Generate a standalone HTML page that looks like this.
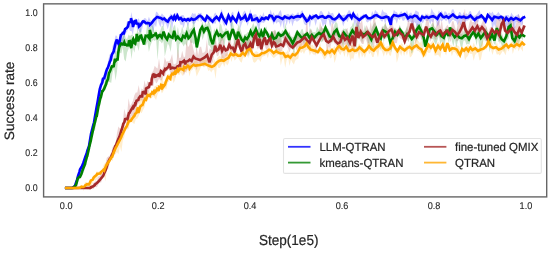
<!DOCTYPE html>
<html><head><meta charset="utf-8"><style>
html,body{margin:0;padding:0;background:#fff;}
svg{display:block;}
text{font-family:"Liberation Sans",Arial,sans-serif;fill:#262626;text-rendering:geometricPrecision;stroke:#262626;stroke-width:0.22px;}
.tk{font-size:9.8px;stroke-width:0.12px;}
.lg{font-size:11.8px;}
.ax{font-size:13.6px;}
</style></head><body>
<svg width="550" height="253" viewBox="0 0 550 253">
<rect width="550" height="253" fill="#fff"/>
<clipPath id="c"><rect x="43.6" y="3.85" width="503.10" height="193.05"/></clipPath>
<g clip-path="url(#c)">
<polygon points="66.2,188.0 67.7,188.0 69.1,188.0 70.6,188.0 72.0,188.0 73.5,185.8 74.9,184.4 76.4,179.9 77.8,174.8 79.3,169.3 80.7,165.1 82.2,164.5 83.6,159.6 85.1,155.9 86.5,149.3 88.0,145.5 89.4,142.6 90.9,133.0 92.3,125.5 93.8,118.9 95.2,111.2 96.7,104.6 98.1,95.4 99.6,89.2 101.0,79.3 102.5,78.6 103.9,74.8 105.4,72.9 106.8,68.3 108.3,60.0 109.7,54.3 111.2,56.2 112.6,46.0 114.1,42.2 115.5,35.5 117.0,35.7 118.4,41.4 119.9,36.9 121.3,31.6 122.8,31.5 124.2,28.6 125.7,26.7 127.1,20.9 128.6,21.8 130.0,19.9 131.5,12.0 132.9,20.7 134.4,20.6 135.8,18.0 137.3,21.7 138.7,18.0 140.2,22.8 141.6,20.2 143.1,19.4 144.5,17.9 146.0,18.5 147.4,21.0 148.9,16.8 150.3,20.1 151.8,21.3 153.2,18.0 154.7,17.4 156.1,11.4 157.6,12.6 159.0,15.1 160.5,16.1 161.9,13.3 163.4,15.3 164.8,16.2 166.3,18.4 167.7,18.6 169.2,16.4 170.6,13.4 172.1,14.4 173.5,15.3 175.0,13.9 176.4,12.6 177.9,13.1 179.3,16.2 180.8,15.7 182.2,15.1 183.7,15.3 185.1,18.2 186.6,17.7 188.0,17.6 189.5,16.9 190.9,16.1 192.4,12.8 193.8,14.0 195.3,13.3 196.7,16.7 198.2,12.9 199.6,13.6 201.1,12.6 202.5,15.5 204.0,16.9 205.4,17.2 206.9,13.7 208.3,15.5 209.8,17.1 211.2,15.9 212.7,19.8 214.1,14.1 215.6,12.6 217.0,15.8 218.5,17.4 219.9,16.3 221.4,9.0 222.8,12.3 224.3,18.7 225.7,16.8 227.2,15.4 228.6,12.7 230.1,17.5 231.5,13.1 233.0,11.4 234.4,16.8 235.9,19.8 237.3,16.1 238.8,9.3 240.2,16.1 241.7,16.6 243.1,12.4 244.6,10.4 246.0,12.4 247.5,17.8 248.9,13.9 250.4,9.0 251.8,14.8 253.3,14.8 254.7,14.3 256.2,14.3 257.6,17.8 259.1,16.4 260.5,14.6 262.0,16.8 263.4,12.0 264.9,17.1 266.3,15.7 267.8,16.5 269.2,14.8 270.7,9.6 272.1,14.4 273.6,12.2 275.0,15.4 276.5,14.6 277.9,14.5 279.4,11.6 280.8,10.1 282.3,16.5 283.7,14.8 285.2,14.7 286.6,14.6 288.1,13.7 289.5,15.1 291.0,14.3 292.4,13.3 293.9,14.6 295.3,15.2 296.8,13.4 298.2,12.1 299.7,14.9 301.1,10.9 302.6,10.2 304.0,15.6 305.5,17.5 306.9,17.1 308.4,16.5 309.8,13.6 311.3,15.8 312.7,13.8 314.2,15.1 315.6,14.1 317.1,14.1 318.5,15.9 320.0,11.6 321.4,10.7 322.9,13.1 324.3,15.8 325.8,15.6 327.2,15.0 328.7,10.8 330.1,13.5 331.6,13.2 333.0,12.8 334.5,16.9 335.9,16.8 337.4,15.9 338.8,11.4 340.3,15.1 341.7,15.2 343.2,15.3 344.6,14.6 346.1,15.3 347.5,12.6 349.0,9.8 350.4,11.4 351.9,14.8 353.3,10.2 354.8,13.8 356.2,15.2 357.7,12.8 359.1,17.9 360.6,15.6 362.0,15.8 363.5,13.5 364.9,14.6 366.4,13.6 367.8,15.7 369.3,17.0 370.7,16.7 372.2,11.0 373.6,14.6 375.1,9.7 376.5,11.4 378.0,12.8 379.4,15.3 380.9,14.4 382.3,9.2 383.8,12.0 385.2,12.6 386.7,12.9 388.1,15.7 389.6,19.5 391.0,21.1 392.5,14.8 393.9,9.7 395.4,11.8 396.8,12.1 398.3,14.4 399.7,13.0 401.2,10.9 402.6,13.2 404.1,12.3 405.5,12.9 407.0,10.2 408.4,14.7 409.9,12.9 411.3,12.6 412.8,15.3 414.2,13.8 415.7,10.2 417.1,11.3 418.6,12.0 420.0,18.1 421.5,14.2 422.9,14.3 424.4,16.1 425.8,13.2 427.3,15.0 428.7,14.5 430.2,15.0 431.6,8.3 433.1,11.7 434.5,13.3 436.0,15.2 437.4,14.9 438.9,10.3 440.3,12.7 441.8,10.5 443.2,14.8 444.7,11.2 446.1,11.8 447.6,14.2 449.0,12.5 450.5,13.9 451.9,9.6 453.4,9.2 454.8,12.8 456.3,15.4 457.7,15.9 459.2,11.8 460.6,12.6 462.1,15.8 463.5,12.0 465.0,15.2 466.4,13.3 467.9,14.8 469.3,11.4 470.8,10.9 472.2,15.0 473.7,16.1 475.1,15.6 476.6,14.6 478.0,12.2 479.5,10.0 480.9,14.2 482.4,15.5 483.8,17.2 485.3,18.7 486.7,14.2 488.2,13.3 489.6,12.0 491.1,13.6 492.5,11.5 494.0,14.6 495.4,14.9 496.9,14.1 498.3,11.7 499.8,14.0 501.2,15.2 502.7,15.2 504.1,16.7 505.6,15.0 507.0,15.0 508.5,15.0 509.9,17.1 511.4,12.4 512.8,14.9 514.3,16.8 515.7,15.8 517.2,14.9 518.6,13.8 520.1,18.1 521.5,16.9 523.0,15.0 523.0,23.1 521.5,26.1 520.1,22.6 518.6,22.9 517.2,21.3 515.7,22.4 514.3,34.2 512.8,22.2 511.4,21.1 509.9,28.9 508.5,22.8 507.0,29.6 505.6,24.2 504.1,22.9 502.7,19.2 501.2,19.1 499.8,21.6 498.3,20.3 496.9,19.4 495.4,28.1 494.0,23.7 492.5,30.4 491.1,21.8 489.6,19.2 488.2,18.4 486.7,19.8 485.3,22.7 483.8,22.3 482.4,18.5 480.9,20.1 479.5,18.3 478.0,22.9 476.6,20.8 475.1,25.5 473.7,20.8 472.2,21.0 470.8,18.7 469.3,19.5 467.9,20.6 466.4,20.4 465.0,23.6 463.5,19.7 462.1,21.1 460.6,25.9 459.2,20.0 457.7,25.2 456.3,21.3 454.8,20.7 453.4,19.5 451.9,20.4 450.5,22.5 449.0,24.5 447.6,19.2 446.1,21.3 444.7,19.6 443.2,19.5 441.8,21.6 440.3,20.1 438.9,24.6 437.4,26.7 436.0,21.3 434.5,18.1 433.1,22.9 431.6,20.8 430.2,24.6 428.7,20.3 427.3,20.9 425.8,20.8 424.4,19.4 422.9,23.6 421.5,21.8 420.0,24.3 418.6,25.3 417.1,28.9 415.7,23.3 414.2,22.1 412.8,27.5 411.3,22.9 409.9,21.0 408.4,22.3 407.0,21.1 405.5,18.3 404.1,20.7 402.6,20.7 401.2,17.4 399.7,19.9 398.3,18.4 396.8,23.8 395.4,19.6 393.9,19.2 392.5,21.4 391.0,27.7 389.6,23.6 388.1,21.4 386.7,18.9 385.2,24.4 383.8,18.9 382.3,21.8 380.9,20.8 379.4,18.5 378.0,17.2 376.5,19.1 375.1,19.4 373.6,18.0 372.2,19.1 370.7,21.6 369.3,20.7 367.8,22.5 366.4,21.7 364.9,17.5 363.5,19.6 362.0,19.8 360.6,21.0 359.1,24.6 357.7,28.2 356.2,21.3 354.8,26.6 353.3,18.7 351.9,21.2 350.4,18.1 349.0,18.5 347.5,22.3 346.1,19.9 344.6,22.2 343.2,26.6 341.7,20.9 340.3,19.9 338.8,19.8 337.4,19.5 335.9,22.1 334.5,22.4 333.0,24.6 331.6,21.4 330.1,26.9 328.7,20.1 327.2,19.1 325.8,25.7 324.3,23.7 322.9,27.1 321.4,21.1 320.0,18.5 318.5,19.9 317.1,20.1 315.6,26.1 314.2,19.8 312.7,20.5 311.3,20.3 309.8,28.2 308.4,21.5 306.9,24.9 305.5,25.2 304.0,23.7 302.6,18.5 301.1,17.6 299.7,19.8 298.2,21.0 296.8,21.7 295.3,20.3 293.9,21.2 292.4,26.5 291.0,19.8 289.5,24.3 288.1,19.3 286.6,25.9 285.2,18.5 283.7,29.1 282.3,20.8 280.8,27.4 279.4,22.5 277.9,21.8 276.5,23.8 275.0,21.2 273.6,25.1 272.1,20.6 270.7,19.4 269.2,18.2 267.8,20.2 266.3,20.1 264.9,22.0 263.4,22.9 262.0,22.2 260.5,23.0 259.1,30.7 257.6,26.6 256.2,21.9 254.7,22.3 253.3,22.2 251.8,22.3 250.4,17.2 248.9,21.7 247.5,25.9 246.0,20.3 244.6,21.7 243.1,20.5 241.7,24.0 240.2,28.8 238.8,18.8 237.3,25.9 235.9,22.9 234.4,21.1 233.0,18.7 231.5,28.8 230.1,24.9 228.6,18.2 227.2,25.4 225.7,23.6 224.3,26.5 222.8,23.0 221.4,17.8 219.9,24.1 218.5,21.7 217.0,19.2 215.6,23.8 214.1,23.3 212.7,24.5 211.2,21.6 209.8,21.8 208.3,23.6 206.9,19.0 205.4,23.3 204.0,22.5 202.5,20.0 201.1,22.3 199.6,18.0 198.2,21.5 196.7,20.1 195.3,22.8 193.8,24.7 192.4,23.2 190.9,20.6 189.5,21.7 188.0,26.4 186.6,23.1 185.1,22.1 183.7,28.2 182.2,24.2 180.8,25.3 179.3,21.4 177.9,19.4 176.4,20.4 175.0,19.7 173.5,19.9 172.1,30.3 170.6,21.7 169.2,24.6 167.7,29.3 166.3,24.4 164.8,22.0 163.4,27.6 161.9,21.8 160.5,27.3 159.0,23.9 157.6,18.6 156.1,27.2 154.7,24.4 153.2,33.2 151.8,26.1 150.3,28.2 148.9,29.8 147.4,25.0 146.0,25.8 144.5,23.4 143.1,24.8 141.6,31.4 140.2,32.5 138.7,30.6 137.3,30.2 135.8,23.8 134.4,24.9 132.9,34.9 131.5,30.9 130.0,31.0 128.6,27.2 127.1,31.7 125.7,33.2 124.2,37.5 122.8,44.9 121.3,46.5 119.9,46.1 118.4,50.5 117.0,45.9 115.5,53.7 114.1,54.2 112.6,60.6 111.2,60.9 109.7,64.5 108.3,70.6 106.8,75.8 105.4,81.8 103.9,79.7 102.5,83.9 101.0,92.1 99.6,106.2 98.1,100.4 96.7,115.5 95.2,117.4 93.8,125.4 92.3,134.5 90.9,139.6 89.4,148.1 88.0,152.3 86.5,156.9 85.1,159.0 83.6,165.5 82.2,170.9 80.7,170.5 79.3,175.7 77.8,178.0 76.4,184.1 74.9,188.5 73.5,187.7 72.0,188.0 70.6,188.0 69.1,188.0 67.7,188.0 66.2,188.0" fill="#0000ff" fill-opacity="0.2"/>
<polygon points="66.2,188.0 67.7,188.0 69.1,188.0 70.6,188.0 72.0,188.0 73.5,187.1 74.9,184.9 76.4,182.7 77.8,175.4 79.3,174.8 80.7,173.1 82.2,165.2 83.6,164.9 85.1,160.1 86.5,149.2 88.0,149.9 89.4,135.9 90.9,137.9 92.3,131.4 93.8,125.1 95.2,116.8 96.7,111.4 98.1,105.5 99.6,94.7 101.0,90.8 102.5,88.5 103.9,84.5 105.4,77.8 106.8,68.8 108.3,74.9 109.7,67.6 111.2,65.5 112.6,63.4 114.1,57.5 115.5,51.0 117.0,51.4 118.4,45.1 119.9,40.9 121.3,40.3 122.8,37.4 124.2,31.8 125.7,38.5 127.1,39.0 128.6,34.5 130.0,36.1 131.5,34.8 132.9,34.7 134.4,38.8 135.8,37.9 137.3,29.5 138.7,33.1 140.2,26.0 141.6,33.5 143.1,34.9 144.5,37.7 146.0,33.4 147.4,21.7 148.9,29.0 150.3,28.1 151.8,24.6 153.2,27.0 154.7,32.4 156.1,29.4 157.6,35.4 159.0,32.7 160.5,30.4 161.9,25.5 163.4,26.5 164.8,32.3 166.3,35.9 167.7,32.2 169.2,32.1 170.6,21.9 172.1,31.5 173.5,26.7 175.0,24.4 176.4,34.3 177.9,26.8 179.3,34.9 180.8,32.5 182.2,26.0 183.7,32.5 185.1,31.5 186.6,27.5 188.0,22.6 189.5,30.0 190.9,28.3 192.4,27.6 193.8,15.6 195.3,34.0 196.7,38.1 198.2,35.8 199.6,30.6 201.1,24.8 202.5,21.5 204.0,26.8 205.4,22.2 206.9,25.3 208.3,21.5 209.8,23.2 211.2,27.0 212.7,39.9 214.1,28.2 215.6,31.6 217.0,26.8 218.5,32.7 219.9,23.2 221.4,25.0 222.8,31.3 224.3,31.5 225.7,27.7 227.2,29.2 228.6,33.6 230.1,30.9 231.5,20.9 233.0,22.9 234.4,30.6 235.9,32.8 237.3,29.3 238.8,24.1 240.2,28.0 241.7,33.6 243.1,37.3 244.6,33.9 246.0,34.2 247.5,32.2 248.9,32.0 250.4,28.5 251.8,26.8 253.3,22.7 254.7,26.9 256.2,24.8 257.6,31.1 259.1,27.2 260.5,28.3 262.0,30.4 263.4,32.2 264.9,28.2 266.3,26.3 267.8,32.6 269.2,32.7 270.7,35.6 272.1,31.6 273.6,33.8 275.0,29.7 276.5,32.8 277.9,32.5 279.4,30.2 280.8,33.6 282.3,30.0 283.7,31.0 285.2,22.7 286.6,29.0 288.1,32.2 289.5,32.8 291.0,36.2 292.4,36.8 293.9,37.3 295.3,32.3 296.8,30.2 298.2,30.9 299.7,33.4 301.1,29.8 302.6,28.7 304.0,34.4 305.5,32.7 306.9,30.6 308.4,34.1 309.8,27.7 311.3,30.1 312.7,32.3 314.2,32.1 315.6,32.4 317.1,26.5 318.5,29.2 320.0,30.2 321.4,25.6 322.9,30.1 324.3,28.1 325.8,24.7 327.2,28.1 328.7,29.4 330.1,32.8 331.6,35.5 333.0,30.6 334.5,24.2 335.9,21.8 337.4,23.4 338.8,30.7 340.3,34.2 341.7,32.4 343.2,28.6 344.6,29.0 346.1,28.6 347.5,31.2 349.0,33.6 350.4,27.3 351.9,26.0 353.3,21.4 354.8,28.3 356.2,22.1 357.7,25.5 359.1,25.2 360.6,31.9 362.0,31.4 363.5,31.2 364.9,24.9 366.4,30.5 367.8,28.3 369.3,31.7 370.7,32.2 372.2,26.7 373.6,24.2 375.1,21.9 376.5,25.5 378.0,29.5 379.4,33.1 380.9,32.9 382.3,27.2 383.8,26.1 385.2,22.8 386.7,27.0 388.1,30.1 389.6,34.1 391.0,38.6 392.5,32.8 393.9,27.2 395.4,29.1 396.8,29.6 398.3,29.9 399.7,24.7 401.2,28.2 402.6,30.6 404.1,31.8 405.5,31.5 407.0,25.5 408.4,31.5 409.9,33.4 411.3,36.1 412.8,33.0 414.2,29.7 415.7,29.1 417.1,23.2 418.6,24.5 420.0,24.6 421.5,22.6 422.9,32.1 424.4,38.8 425.8,39.6 427.3,35.1 428.7,30.4 430.2,27.1 431.6,24.0 433.1,22.6 434.5,26.7 436.0,28.8 437.4,31.6 438.9,28.6 440.3,31.5 441.8,29.7 443.2,33.3 444.7,33.8 446.1,28.9 447.6,29.0 449.0,29.2 450.5,26.3 451.9,27.6 453.4,28.3 454.8,30.8 456.3,32.0 457.7,28.1 459.2,31.9 460.6,33.8 462.1,34.1 463.5,30.9 465.0,28.8 466.4,32.0 467.9,34.4 469.3,34.5 470.8,31.6 472.2,31.7 473.7,29.3 475.1,30.0 476.6,31.9 478.0,27.9 479.5,32.3 480.9,28.9 482.4,33.3 483.8,30.4 485.3,28.5 486.7,27.3 488.2,34.2 489.6,37.3 491.1,31.3 492.5,33.5 494.0,34.2 495.4,29.7 496.9,24.9 498.3,29.1 499.8,27.8 501.2,31.5 502.7,35.5 504.1,38.9 505.6,30.7 507.0,27.8 508.5,23.9 509.9,20.6 511.4,21.0 512.8,35.8 514.3,33.0 515.7,33.8 517.2,31.5 518.6,32.8 520.1,30.0 521.5,29.7 523.0,32.4 523.0,40.5 521.5,38.3 520.1,39.3 518.6,44.7 517.2,40.3 515.7,43.2 514.3,47.0 512.8,42.3 511.4,40.5 509.9,33.0 508.5,38.8 507.0,40.2 505.6,43.9 504.1,51.7 502.7,47.1 501.2,44.2 499.8,41.1 498.3,42.1 496.9,35.0 495.4,45.3 494.0,43.7 492.5,38.9 491.1,44.2 489.6,52.3 488.2,42.3 486.7,38.9 485.3,41.6 483.8,38.5 482.4,45.1 480.9,47.7 479.5,49.5 478.0,37.0 476.6,46.1 475.1,37.2 473.7,37.3 472.2,35.4 470.8,38.7 469.3,44.8 467.9,43.8 466.4,44.8 465.0,40.5 463.5,40.7 462.1,48.1 460.6,46.4 459.2,39.2 457.7,41.5 456.3,47.9 454.8,39.6 453.4,46.6 451.9,41.2 450.5,31.5 449.0,43.5 447.6,38.3 446.1,34.7 444.7,46.0 443.2,42.2 441.8,41.3 440.3,44.2 438.9,35.9 437.4,40.2 436.0,45.1 434.5,42.4 433.1,38.9 431.6,39.2 430.2,36.1 428.7,35.3 427.3,45.4 425.8,48.0 424.4,44.1 422.9,49.0 421.5,37.4 420.0,35.1 418.6,32.3 417.1,41.9 415.7,36.1 414.2,41.6 412.8,52.0 411.3,53.7 409.9,38.5 408.4,41.9 407.0,38.6 405.5,42.0 404.1,40.9 402.6,36.5 401.2,35.4 399.7,35.7 398.3,35.9 396.8,36.4 395.4,38.0 393.9,40.1 392.5,47.8 391.0,52.4 389.6,43.6 388.1,36.6 386.7,36.5 385.2,35.9 383.8,42.6 382.3,36.0 380.9,50.9 379.4,43.6 378.0,46.7 376.5,34.0 375.1,36.1 373.6,35.4 372.2,51.4 370.7,43.3 369.3,44.8 367.8,42.6 366.4,35.4 364.9,36.5 363.5,37.0 362.0,43.0 360.6,36.5 359.1,39.5 357.7,38.7 356.2,50.3 354.8,39.8 353.3,36.9 351.9,37.0 350.4,41.5 349.0,47.1 347.5,44.9 346.1,40.0 344.6,39.6 343.2,49.4 341.7,40.0 340.3,42.1 338.8,41.7 337.4,35.2 335.9,35.8 334.5,35.6 333.0,42.3 331.6,42.6 330.1,41.9 328.7,41.1 327.2,35.4 325.8,30.6 324.3,39.1 322.9,40.6 321.4,42.6 320.0,40.7 318.5,35.9 317.1,39.1 315.6,37.9 314.2,41.8 312.7,40.8 311.3,39.5 309.8,45.6 308.4,37.5 306.9,40.6 305.5,39.0 304.0,44.3 302.6,40.8 301.1,39.7 299.7,40.8 298.2,39.0 296.8,41.3 295.3,44.8 293.9,57.2 292.4,46.1 291.0,47.8 289.5,43.3 288.1,38.6 286.6,41.4 285.2,34.6 283.7,37.7 282.3,38.4 280.8,44.3 279.4,42.2 277.9,45.0 276.5,51.8 275.0,47.0 273.6,40.7 272.1,43.8 270.7,44.7 269.2,44.2 267.8,37.8 266.3,35.2 264.9,36.7 263.4,41.7 262.0,43.6 260.5,41.3 259.1,38.0 257.6,43.7 256.2,37.1 254.7,42.9 253.3,37.3 251.8,42.4 250.4,38.9 248.9,58.5 247.5,46.1 246.0,46.9 244.6,42.9 243.1,52.8 241.7,49.5 240.2,40.0 238.8,43.1 237.3,38.5 235.9,45.0 234.4,48.7 233.0,32.8 231.5,36.8 230.1,41.6 228.6,42.1 227.2,38.3 225.7,37.0 224.3,47.8 222.8,39.9 221.4,41.3 219.9,51.4 218.5,41.8 217.0,35.0 215.6,42.9 214.1,50.1 212.7,53.4 211.2,49.1 209.8,46.1 208.3,45.1 206.9,31.6 205.4,32.4 204.0,35.7 202.5,40.0 201.1,33.3 199.6,41.2 198.2,43.6 196.7,51.2 195.3,42.9 193.8,44.6 192.4,42.5 190.9,43.0 189.5,40.1 188.0,40.3 186.6,46.0 185.1,43.5 183.7,46.4 182.2,43.7 180.8,42.3 179.3,44.5 177.9,60.6 176.4,42.3 175.0,40.2 173.5,39.4 172.1,40.4 170.6,52.1 169.2,46.1 167.7,43.2 166.3,49.9 164.8,56.5 163.4,40.7 161.9,43.4 160.5,41.6 159.0,40.5 157.6,60.1 156.1,39.4 154.7,41.0 153.2,39.7 151.8,42.1 150.3,46.0 148.9,52.1 147.4,41.8 146.0,45.2 144.5,45.2 143.1,43.9 141.6,42.0 140.2,40.6 138.7,51.0 137.3,45.9 135.8,44.6 134.4,52.8 132.9,48.1 131.5,59.2 130.0,45.8 128.6,48.7 127.1,52.4 125.7,61.6 124.2,59.3 122.8,47.3 121.3,53.4 119.9,52.5 118.4,54.3 117.0,71.4 115.5,80.4 114.1,67.9 112.6,72.5 111.2,83.1 109.7,82.1 108.3,82.3 106.8,86.4 105.4,90.0 103.9,91.0 102.5,93.8 101.0,101.8 99.6,106.4 98.1,112.3 96.7,117.1 95.2,129.2 93.8,132.1 92.3,135.6 90.9,145.8 89.4,151.4 88.0,155.8 86.5,164.3 85.1,167.5 83.6,173.3 82.2,173.0 80.7,177.0 79.3,179.5 77.8,184.1 76.4,184.8 74.9,187.6 73.5,187.7 72.0,188.0 70.6,188.0 69.1,188.0 67.7,188.0 66.2,188.0" fill="#008000" fill-opacity="0.2"/>
<polygon points="66.2,188.0 67.7,188.0 69.1,188.0 70.6,188.0 72.0,188.0 73.5,188.0 74.9,188.0 76.4,188.0 77.8,188.0 79.3,188.0 80.7,188.0 82.2,188.0 83.6,188.0 85.1,188.0 86.5,188.0 88.0,188.0 89.4,186.4 90.9,187.1 92.3,185.3 93.8,182.5 95.2,181.2 96.7,181.7 98.1,176.6 99.6,176.3 101.0,170.8 102.5,174.8 103.9,172.0 105.4,164.0 106.8,157.8 108.3,156.5 109.7,155.7 111.2,152.6 112.6,147.2 114.1,144.9 115.5,143.8 117.0,132.9 118.4,126.5 119.9,128.5 121.3,128.7 122.8,122.7 124.2,108.8 125.7,114.6 127.1,114.8 128.6,98.3 130.0,105.9 131.5,103.7 132.9,101.1 134.4,95.3 135.8,92.6 137.3,92.6 138.7,85.0 140.2,93.9 141.6,88.5 143.1,89.7 144.5,80.3 146.0,86.2 147.4,80.9 148.9,82.5 150.3,80.5 151.8,72.8 153.2,71.1 154.7,65.7 156.1,67.4 157.6,68.5 159.0,58.6 160.5,68.7 161.9,70.0 163.4,66.1 164.8,56.9 166.3,61.7 167.7,61.3 169.2,61.5 170.6,59.0 172.1,53.9 173.5,64.3 175.0,64.2 176.4,62.7 177.9,47.8 179.3,58.3 180.8,57.5 182.2,50.8 183.7,57.0 185.1,56.8 186.6,39.9 188.0,47.3 189.5,45.1 190.9,37.2 192.4,45.1 193.8,50.9 195.3,55.5 196.7,47.3 198.2,55.2 199.6,47.3 201.1,46.5 202.5,53.1 204.0,52.5 205.4,51.1 206.9,39.3 208.3,53.6 209.8,48.2 211.2,49.7 212.7,50.0 214.1,48.5 215.6,37.8 217.0,46.1 218.5,42.8 219.9,42.3 221.4,32.2 222.8,35.3 224.3,45.2 225.7,48.3 227.2,46.5 228.6,40.3 230.1,32.0 231.5,46.0 233.0,44.6 234.4,41.4 235.9,32.5 237.3,35.0 238.8,27.6 240.2,44.9 241.7,45.0 243.1,37.7 244.6,39.7 246.0,37.7 247.5,41.3 248.9,36.1 250.4,41.3 251.8,41.9 253.3,38.0 254.7,32.6 256.2,32.8 257.6,40.1 259.1,31.8 260.5,38.1 262.0,39.3 263.4,32.9 264.9,31.5 266.3,40.7 267.8,39.9 269.2,37.4 270.7,32.4 272.1,31.1 273.6,31.1 275.0,29.6 276.5,35.3 277.9,39.7 279.4,33.6 280.8,39.4 282.3,41.8 283.7,34.8 285.2,29.0 286.6,30.3 288.1,37.7 289.5,30.5 291.0,42.7 292.4,44.4 293.9,34.6 295.3,38.7 296.8,35.0 298.2,31.8 299.7,37.4 301.1,37.1 302.6,33.2 304.0,33.5 305.5,32.5 306.9,14.2 308.4,37.1 309.8,30.8 311.3,29.0 312.7,34.6 314.2,36.7 315.6,35.6 317.1,34.5 318.5,34.2 320.0,21.2 321.4,27.5 322.9,28.0 324.3,28.7 325.8,23.0 327.2,34.2 328.7,31.6 330.1,38.1 331.6,23.2 333.0,23.8 334.5,37.1 335.9,24.9 337.4,34.8 338.8,34.3 340.3,35.0 341.7,30.6 343.2,30.1 344.6,35.5 346.1,29.6 347.5,27.7 349.0,38.6 350.4,38.6 351.9,32.4 353.3,28.1 354.8,43.5 356.2,25.0 357.7,19.2 359.1,21.9 360.6,22.9 362.0,18.9 363.5,32.0 364.9,31.6 366.4,25.1 367.8,27.4 369.3,31.4 370.7,21.1 372.2,29.9 373.6,14.9 375.1,19.8 376.5,27.8 378.0,38.7 379.4,32.5 380.9,29.6 382.3,25.4 383.8,29.9 385.2,22.9 386.7,26.9 388.1,28.4 389.6,26.2 391.0,20.8 392.5,21.8 393.9,29.6 395.4,27.6 396.8,30.8 398.3,28.3 399.7,25.7 401.2,30.6 402.6,32.3 404.1,33.8 405.5,30.1 407.0,26.9 408.4,16.8 409.9,24.3 411.3,21.9 412.8,15.7 414.2,25.5 415.7,28.9 417.1,25.3 418.6,27.9 420.0,27.8 421.5,31.3 422.9,29.1 424.4,29.4 425.8,22.6 427.3,12.6 428.7,21.6 430.2,31.3 431.6,32.7 433.1,16.0 434.5,31.6 436.0,26.2 437.4,22.5 438.9,19.8 440.3,27.3 441.8,19.8 443.2,29.8 444.7,28.7 446.1,26.8 447.6,24.7 449.0,28.0 450.5,31.6 451.9,21.7 453.4,20.9 454.8,26.4 456.3,31.1 457.7,23.4 459.2,19.6 460.6,23.9 462.1,21.2 463.5,15.2 465.0,8.6 466.4,27.7 467.9,30.5 469.3,22.9 470.8,18.7 472.2,22.2 473.7,21.9 475.1,23.1 476.6,14.1 478.0,23.4 479.5,25.1 480.9,24.9 482.4,21.9 483.8,17.4 485.3,24.9 486.7,26.8 488.2,33.4 489.6,28.7 491.1,26.2 492.5,27.8 494.0,29.9 495.4,29.8 496.9,17.5 498.3,17.6 499.8,16.7 501.2,16.0 502.7,17.0 504.1,15.4 505.6,28.5 507.0,28.7 508.5,19.9 509.9,27.0 511.4,16.6 512.8,17.5 514.3,27.7 515.7,25.5 517.2,18.5 518.6,14.1 520.1,18.1 521.5,29.6 523.0,19.2 523.0,35.1 521.5,37.8 520.1,39.0 518.6,37.6 517.2,46.3 515.7,41.1 514.3,36.4 512.8,37.8 511.4,34.8 509.9,32.7 508.5,34.6 507.0,35.3 505.6,34.8 504.1,31.1 502.7,28.6 501.2,28.1 499.8,44.6 498.3,36.8 496.9,35.9 495.4,35.3 494.0,36.4 492.5,34.0 491.1,37.3 489.6,38.1 488.2,43.8 486.7,39.3 485.3,37.9 483.8,38.8 482.4,33.7 480.9,32.4 479.5,36.5 478.0,30.8 476.6,38.8 475.1,37.1 473.7,32.9 472.2,32.3 470.8,32.0 469.3,36.0 467.9,42.4 466.4,37.8 465.0,35.0 463.5,28.3 462.1,37.0 460.6,37.2 459.2,37.9 457.7,40.7 456.3,41.4 454.8,33.8 453.4,34.1 451.9,36.6 450.5,42.2 449.0,36.5 447.6,35.6 446.1,33.5 444.7,41.0 443.2,38.8 441.8,36.1 440.3,39.0 438.9,36.1 437.4,36.0 436.0,40.0 434.5,38.5 433.1,35.6 431.6,38.3 430.2,41.7 428.7,36.3 427.3,34.2 425.8,32.7 424.4,36.2 422.9,37.8 421.5,40.0 420.0,36.0 418.6,39.6 417.1,38.0 415.7,44.9 414.2,36.7 412.8,31.3 411.3,27.4 409.9,35.0 408.4,41.9 407.0,38.7 405.5,44.1 404.1,42.6 402.6,40.0 401.2,39.0 399.7,38.0 398.3,36.2 396.8,43.2 395.4,42.9 393.9,43.8 392.5,34.3 391.0,37.7 389.6,36.0 388.1,36.8 386.7,38.2 385.2,38.9 383.8,38.3 382.3,35.1 380.9,36.5 379.4,40.0 378.0,48.9 376.5,46.8 375.1,39.5 373.6,50.0 372.2,41.7 370.7,39.0 369.3,41.4 367.8,45.4 366.4,40.5 364.9,38.5 363.5,44.0 362.0,44.1 360.6,41.6 359.1,38.7 357.7,38.0 356.2,35.7 354.8,49.5 353.3,50.4 351.9,48.2 350.4,45.5 349.0,48.8 347.5,47.9 346.1,43.7 344.6,45.5 343.2,42.3 341.7,49.4 340.3,44.8 338.8,51.8 337.4,49.0 335.9,44.7 334.5,43.6 333.0,41.3 331.6,42.0 330.1,48.2 328.7,46.4 327.2,53.9 325.8,42.4 324.3,38.4 322.9,42.3 321.4,39.1 320.0,42.2 318.5,43.8 317.1,46.9 315.6,55.9 314.2,43.2 312.7,41.6 311.3,42.8 309.8,51.7 308.4,46.4 306.9,45.5 305.5,45.2 304.0,45.6 302.6,44.8 301.1,46.2 299.7,48.2 298.2,46.5 296.8,51.0 295.3,46.7 293.9,49.8 292.4,49.4 291.0,48.1 289.5,52.4 288.1,48.5 286.6,45.0 285.2,45.7 283.7,46.4 282.3,49.4 280.8,52.6 279.4,52.0 277.9,50.1 276.5,53.5 275.0,46.5 273.6,47.8 272.1,47.7 270.7,43.0 269.2,45.9 267.8,48.4 266.3,50.0 264.9,46.1 263.4,44.4 262.0,54.4 260.5,47.8 259.1,47.6 257.6,49.6 256.2,43.0 254.7,41.1 253.3,49.2 251.8,53.3 250.4,51.0 248.9,52.6 247.5,57.1 246.0,48.7 244.6,49.1 243.1,52.0 241.7,55.4 240.2,51.8 238.8,46.9 237.3,44.4 235.9,51.8 234.4,58.1 233.0,50.7 231.5,53.1 230.1,49.2 228.6,50.8 227.2,56.2 225.7,56.3 224.3,59.1 222.8,58.4 221.4,58.5 219.9,50.6 218.5,55.4 217.0,56.6 215.6,50.4 214.1,55.8 212.7,62.5 211.2,64.0 209.8,66.9 208.3,64.1 206.9,62.6 205.4,63.4 204.0,66.6 202.5,65.6 201.1,64.8 199.6,65.6 198.2,63.3 196.7,70.3 195.3,66.3 193.8,65.6 192.4,63.2 190.9,64.4 189.5,71.2 188.0,68.9 186.6,70.6 185.1,72.4 183.7,75.7 182.2,64.7 180.8,65.5 179.3,72.7 177.9,73.4 176.4,72.7 175.0,78.4 173.5,71.6 172.1,75.3 170.6,75.1 169.2,68.2 167.7,70.6 166.3,71.5 164.8,76.4 163.4,75.8 161.9,80.2 160.5,80.4 159.0,78.8 157.6,81.8 156.1,83.6 154.7,79.2 153.2,86.6 151.8,81.3 150.3,86.8 148.9,91.5 147.4,94.3 146.0,98.4 144.5,95.2 143.1,106.0 141.6,100.1 140.2,100.6 138.7,103.2 137.3,105.1 135.8,110.2 134.4,114.5 132.9,117.1 131.5,115.6 130.0,120.2 128.6,121.4 127.1,130.1 125.7,121.4 124.2,128.2 122.8,132.5 121.3,132.4 119.9,139.9 118.4,142.7 117.0,143.8 115.5,151.5 114.1,156.1 112.6,156.5 111.2,159.6 109.7,162.3 108.3,168.4 106.8,169.3 105.4,173.0 103.9,175.4 102.5,177.7 101.0,183.0 99.6,181.5 98.1,185.0 96.7,187.6 95.2,186.2 93.8,188.7 92.3,189.3 90.9,188.2 89.4,188.3 88.0,188.0 86.5,188.0 85.1,188.0 83.6,188.0 82.2,188.0 80.7,188.0 79.3,188.0 77.8,188.0 76.4,188.0 74.9,188.0 73.5,188.0 72.0,188.0 70.6,188.0 69.1,188.0 67.7,188.0 66.2,188.0" fill="#a52a2a" fill-opacity="0.2"/>
<polygon points="66.2,188.0 67.7,188.0 69.1,188.0 70.6,188.0 72.0,188.0 73.5,188.0 74.9,188.0 76.4,188.0 77.8,188.0 79.3,187.5 80.7,186.4 82.2,186.0 83.6,186.0 85.1,181.9 86.5,182.5 88.0,183.2 89.4,181.6 90.9,179.5 92.3,178.4 93.8,175.5 95.2,174.4 96.7,171.3 98.1,171.7 99.6,171.5 101.0,170.6 102.5,168.0 103.9,164.2 105.4,162.8 106.8,163.5 108.3,160.0 109.7,157.3 111.2,155.9 112.6,151.8 114.1,147.5 115.5,144.6 117.0,143.9 118.4,140.6 119.9,133.2 121.3,133.4 122.8,131.0 124.2,128.8 125.7,125.8 127.1,123.6 128.6,114.7 130.0,118.6 131.5,116.1 132.9,114.8 134.4,113.0 135.8,108.6 137.3,106.4 138.7,105.6 140.2,98.6 141.6,96.7 143.1,101.7 144.5,92.9 146.0,96.2 147.4,93.2 148.9,90.9 150.3,92.9 151.8,91.2 153.2,89.2 154.7,86.2 156.1,85.7 157.6,84.8 159.0,86.2 160.5,81.4 161.9,75.0 163.4,82.7 164.8,80.2 166.3,76.4 167.7,74.3 169.2,73.7 170.6,75.1 172.1,70.2 173.5,71.8 175.0,71.6 176.4,69.4 177.9,65.5 179.3,67.8 180.8,66.4 182.2,65.8 183.7,62.7 185.1,65.7 186.6,60.7 188.0,62.3 189.5,64.5 190.9,61.7 192.4,63.6 193.8,62.3 195.3,60.3 196.7,61.1 198.2,62.7 199.6,62.7 201.1,59.4 202.5,59.7 204.0,59.3 205.4,59.8 206.9,59.8 208.3,62.5 209.8,64.5 211.2,62.4 212.7,64.5 214.1,59.0 215.6,62.0 217.0,58.4 218.5,56.5 219.9,55.5 221.4,58.0 222.8,54.2 224.3,58.4 225.7,53.8 227.2,53.3 228.6,54.8 230.1,48.7 231.5,48.2 233.0,53.4 234.4,49.2 235.9,49.5 237.3,52.0 238.8,53.2 240.2,52.5 241.7,49.9 243.1,46.9 244.6,48.5 246.0,49.0 247.5,47.3 248.9,47.4 250.4,47.0 251.8,50.2 253.3,52.9 254.7,52.2 256.2,50.9 257.6,52.0 259.1,53.3 260.5,52.9 262.0,45.1 263.4,50.0 264.9,50.4 266.3,50.3 267.8,48.3 269.2,45.9 270.7,48.8 272.1,48.7 273.6,51.4 275.0,50.0 276.5,48.3 277.9,48.9 279.4,48.6 280.8,50.5 282.3,49.4 283.7,52.0 285.2,52.6 286.6,51.9 288.1,49.8 289.5,54.0 291.0,53.8 292.4,52.1 293.9,50.4 295.3,52.0 296.8,52.0 298.2,46.8 299.7,45.3 301.1,41.7 302.6,45.7 304.0,44.0 305.5,41.2 306.9,37.6 308.4,44.4 309.8,43.8 311.3,45.5 312.7,44.6 314.2,47.5 315.6,48.5 317.1,49.4 318.5,49.6 320.0,42.4 321.4,48.0 322.9,49.4 324.3,50.1 325.8,51.5 327.2,46.0 328.7,49.5 330.1,46.7 331.6,48.7 333.0,48.3 334.5,45.9 335.9,48.5 337.4,45.2 338.8,44.8 340.3,42.2 341.7,47.0 343.2,42.7 344.6,47.2 346.1,42.0 347.5,47.0 349.0,47.5 350.4,46.5 351.9,44.5 353.3,44.5 354.8,47.8 356.2,48.5 357.7,46.4 359.1,43.2 360.6,45.5 362.0,44.9 363.5,48.8 364.9,49.5 366.4,47.6 367.8,42.6 369.3,41.5 370.7,43.6 372.2,46.2 373.6,46.0 375.1,45.1 376.5,44.9 378.0,43.1 379.4,38.7 380.9,41.3 382.3,42.3 383.8,42.2 385.2,46.9 386.7,46.6 388.1,46.2 389.6,46.2 391.0,41.8 392.5,37.7 393.9,44.0 395.4,46.8 396.8,48.2 398.3,47.7 399.7,46.0 401.2,43.2 402.6,44.1 404.1,47.8 405.5,46.9 407.0,44.7 408.4,45.6 409.9,43.3 411.3,42.5 412.8,46.0 414.2,42.7 415.7,40.0 417.1,39.8 418.6,41.3 420.0,43.2 421.5,40.5 422.9,51.2 424.4,50.6 425.8,47.0 427.3,43.7 428.7,43.4 430.2,43.7 431.6,42.3 433.1,39.9 434.5,46.5 436.0,47.9 437.4,42.5 438.9,42.3 440.3,44.5 441.8,44.2 443.2,43.8 444.7,48.5 446.1,46.5 447.6,41.7 449.0,44.1 450.5,45.1 451.9,45.5 453.4,46.9 454.8,46.2 456.3,45.0 457.7,45.5 459.2,46.4 460.6,51.6 462.1,45.9 463.5,48.5 465.0,46.4 466.4,47.0 467.9,44.3 469.3,47.3 470.8,44.3 472.2,47.4 473.7,42.4 475.1,46.1 476.6,47.2 478.0,47.6 479.5,48.3 480.9,44.9 482.4,39.7 483.8,47.1 485.3,45.5 486.7,44.0 488.2,39.7 489.6,41.7 491.1,41.1 492.5,43.1 494.0,46.3 495.4,46.0 496.9,42.2 498.3,47.3 499.8,46.1 501.2,45.5 502.7,44.5 504.1,45.1 505.6,43.7 507.0,41.2 508.5,45.6 509.9,43.2 511.4,41.8 512.8,41.5 514.3,44.4 515.7,43.2 517.2,40.7 518.6,39.4 520.1,40.3 521.5,39.9 523.0,41.5 523.0,51.7 521.5,49.5 520.1,48.0 518.6,51.4 517.2,46.8 515.7,49.8 514.3,48.8 512.8,53.9 511.4,46.3 509.9,48.4 508.5,51.5 507.0,48.6 505.6,55.2 504.1,52.5 502.7,51.1 501.2,53.5 499.8,55.5 498.3,54.0 496.9,54.8 495.4,50.4 494.0,49.6 492.5,55.0 491.1,50.1 489.6,47.2 488.2,43.2 486.7,49.8 485.3,49.6 483.8,50.6 482.4,52.0 480.9,59.4 479.5,60.5 478.0,52.7 476.6,53.3 475.1,54.9 473.7,60.7 472.2,53.8 470.8,53.9 469.3,53.1 467.9,56.0 466.4,57.6 465.0,60.5 463.5,51.7 462.1,52.7 460.6,56.0 459.2,55.5 457.7,56.4 456.3,54.2 454.8,52.1 453.4,51.5 451.9,56.2 450.5,51.3 449.0,49.1 447.6,48.4 446.1,55.6 444.7,52.0 443.2,48.1 441.8,50.1 440.3,57.9 438.9,55.5 437.4,54.7 436.0,55.4 434.5,55.4 433.1,47.4 431.6,49.8 430.2,52.7 428.7,52.9 427.3,51.7 425.8,56.9 424.4,54.8 422.9,58.7 421.5,54.4 420.0,52.4 418.6,51.1 417.1,50.7 415.7,48.5 414.2,49.8 412.8,53.9 411.3,56.5 409.9,57.5 408.4,49.2 407.0,55.6 405.5,51.2 404.1,56.3 402.6,50.5 401.2,56.1 399.7,51.5 398.3,57.7 396.8,62.8 395.4,50.7 393.9,50.2 392.5,45.8 391.0,55.7 389.6,55.5 388.1,52.1 386.7,55.8 385.2,51.4 383.8,56.8 382.3,52.2 380.9,49.1 379.4,49.0 378.0,57.5 376.5,51.9 375.1,51.3 373.6,57.0 372.2,56.9 370.7,52.3 369.3,54.2 367.8,50.4 366.4,53.2 364.9,58.0 363.5,54.2 362.0,57.5 360.6,51.7 359.1,59.4 357.7,52.2 356.2,54.0 354.8,52.9 353.3,59.5 351.9,57.7 350.4,61.4 349.0,53.1 347.5,57.4 346.1,49.1 344.6,57.1 343.2,52.5 341.7,51.8 340.3,55.3 338.8,52.5 337.4,51.6 335.9,59.1 334.5,63.0 333.0,52.7 331.6,57.5 330.1,58.6 328.7,54.3 327.2,55.3 325.8,58.1 324.3,59.8 322.9,57.0 321.4,53.6 320.0,53.5 318.5,52.7 317.1,54.8 315.6,53.0 314.2,55.3 312.7,53.8 311.3,52.2 309.8,55.4 308.4,49.9 306.9,49.7 305.5,50.4 304.0,54.0 302.6,51.2 301.1,53.3 299.7,51.1 298.2,59.0 296.8,59.2 295.3,60.4 293.9,64.4 292.4,62.6 291.0,59.7 289.5,65.9 288.1,57.4 286.6,60.2 285.2,68.0 283.7,57.8 282.3,59.0 280.8,65.6 279.4,54.6 277.9,55.0 276.5,55.6 275.0,57.3 273.6,57.9 272.1,56.4 270.7,54.3 269.2,52.9 267.8,58.3 266.3,54.3 264.9,56.0 263.4,56.2 262.0,56.9 260.5,62.1 259.1,59.5 257.6,59.3 256.2,61.6 254.7,62.7 253.3,61.9 251.8,56.2 250.4,51.6 248.9,56.6 247.5,52.3 246.0,55.3 244.6,58.0 243.1,57.3 241.7,62.7 240.2,61.5 238.8,59.1 237.3,57.3 235.9,59.5 234.4,60.5 233.0,56.6 231.5,61.9 230.1,56.9 228.6,63.2 227.2,65.5 225.7,62.4 224.3,66.9 222.8,63.1 221.4,64.9 219.9,68.1 218.5,68.1 217.0,64.8 215.6,79.1 214.1,69.6 212.7,69.9 211.2,72.5 209.8,69.9 208.3,71.1 206.9,66.7 205.4,66.4 204.0,67.6 202.5,66.3 201.1,66.4 199.6,70.3 198.2,73.1 196.7,76.6 195.3,69.7 193.8,67.7 192.4,70.1 190.9,70.8 189.5,76.5 188.0,68.8 186.6,73.0 185.1,71.6 183.7,73.8 182.2,75.9 180.8,72.5 179.3,75.3 177.9,74.2 176.4,73.9 175.0,80.3 173.5,83.1 172.1,77.5 170.6,79.3 169.2,81.2 167.7,82.7 166.3,89.2 164.8,87.9 163.4,91.1 161.9,93.5 160.5,89.7 159.0,91.9 157.6,94.3 156.1,100.0 154.7,97.9 153.2,95.9 151.8,98.0 150.3,98.9 148.9,97.6 147.4,101.2 146.0,101.1 144.5,107.2 143.1,109.9 141.6,113.3 140.2,112.1 138.7,116.1 137.3,118.5 135.8,119.2 134.4,124.1 132.9,123.0 131.5,121.6 130.0,122.6 128.6,129.3 127.1,127.9 125.7,129.8 124.2,136.9 122.8,140.7 121.3,152.1 119.9,146.1 118.4,154.3 117.0,152.0 115.5,154.5 114.1,152.7 112.6,161.3 111.2,159.5 109.7,164.2 108.3,166.2 106.8,170.4 105.4,181.4 103.9,174.6 102.5,171.9 101.0,174.0 99.6,175.1 98.1,176.3 96.7,179.6 95.2,181.0 93.8,179.2 92.3,184.8 90.9,189.0 89.4,186.5 88.0,190.3 86.5,187.2 85.1,186.9 83.6,191.1 82.2,187.4 80.7,188.0 79.3,188.3 77.8,188.0 76.4,188.0 74.9,188.0 73.5,188.0 72.0,188.0 70.6,188.0 69.1,188.0 67.7,188.0 66.2,188.0" fill="#ffa500" fill-opacity="0.2"/>
<polyline points="66.2,188.0 66.5,188.0 68.1,188.0 70.0,188.0 71.9,188.0 72.0,188.0 73.8,186.8 75.0,186.0 75.7,183.7 77.0,179.9 77.6,177.6 78.0,176.2 79.5,171.6 80.0,169.6 81.4,167.1 82.0,166.3 83.3,162.9 85.0,157.8 85.2,157.2 87.0,152.4 87.1,151.5 89.0,146.2 89.0,146.3 90.9,134.6 91.0,133.9 92.0,130.2 92.8,126.7 94.0,122.5 94.7,118.2 96.0,110.7 96.6,107.3 97.8,100.8 98.5,96.5 99.8,89.1 100.4,87.0 101.0,85.1 102.3,82.5 103.0,78.7 104.2,78.3 106.1,71.6 107.0,69.1 108.0,67.4 109.9,61.6 110.5,60.6 111.8,54.7 113.7,51.5 114.0,50.0 115.6,42.9 116.9,39.6 117.5,42.2 118.9,44.4 119.4,42.5 120.9,35.0 121.3,34.8 123.2,32.7 124.0,33.0 125.1,29.1 127.0,27.7 128.0,26.4 128.9,22.5 130.8,21.8 131.0,18.2 132.7,24.4 133.0,27.0 134.6,21.2 136.0,20.9 136.5,23.6 138.4,23.8 139.0,26.5 140.3,25.4 142.2,22.3 143.0,21.4 144.1,21.5 146.0,23.3 147.9,23.3 148.0,23.1 149.8,23.6 150.0,24.6 151.8,22.8 153.6,20.4 155.3,18.6 157.1,16.9 158.9,17.5 160.7,18.0 162.5,19.2 164.2,18.6 166.0,20.4 167.8,21.6 169.6,18.6 171.4,16.9 173.1,19.2 174.3,16.3 175.5,19.2 177.3,15.7 179.1,19.2 180.8,18.0 182.6,20.4 184.4,19.2 186.2,20.4 188.0,19.2 189.7,20.4 191.5,18.6 193.3,19.8 195.1,19.2 196.9,18.0 198.6,16.3 200.0,15.7 201.8,16.9 203.6,19.2 205.3,20.4 207.1,16.3 208.9,18.0 210.7,19.8 212.5,21.6 214.2,19.2 216.6,16.9 219.0,19.8 221.4,14.5 223.7,19.2 226.1,22.8 228.5,15.7 230.8,20.4 232.6,16.9 234.4,19.2 236.2,21.6 238.6,14.5 240.9,19.2 243.3,18.0 245.1,15.7 246.9,20.4 248.6,19.2 250.4,13.9 252.2,19.9 254.6,19.4 256.9,18.3 258.7,21.3 260.0,20.8 262.0,18.0 264.0,19.1 266.0,17.6 268.0,18.8 269.6,15.6 271.8,16.2 274.0,20.0 276.2,16.7 278.4,16.7 280.5,17.8 282.7,18.9 284.9,16.7 287.1,17.8 289.3,18.3 291.4,16.7 293.6,17.8 295.8,16.7 298.0,16.2 300.2,16.7 302.4,14.5 304.5,17.8 306.7,21.1 308.3,20.0 310.0,16.7 311.6,18.3 313.8,16.7 316.0,15.6 318.2,17.8 320.3,16.7 322.5,16.2 324.7,17.8 326.0,17.8 328.2,16.2 330.4,16.7 332.5,18.9 334.7,19.4 336.9,17.8 339.1,15.1 341.3,17.8 343.4,20.0 345.6,18.3 347.8,15.6 350.0,15.1 351.6,17.8 353.3,14.0 354.9,16.7 357.1,18.3 359.3,20.0 361.4,18.3 363.6,16.7 365.8,15.6 368.0,18.3 370.2,18.3 372.3,17.3 374.5,15.6 376.7,15.1 378.9,16.7 381.1,17.8 383.3,17.8 386.2,16.7 388.4,17.3 390.0,22.2 390.8,24.9 391.6,17.8 393.8,15.1 396.0,15.6 398.2,16.2 400.4,15.6 402.5,15.1 404.7,14.0 406.4,15.6 408.0,18.3 410.2,16.7 412.4,17.3 414.5,15.6 416.7,16.2 418.9,18.9 420.5,20.0 422.2,16.7 424.3,17.8 426.5,16.7 428.7,17.8 430.9,16.7 433.1,16.2 435.3,17.3 437.4,18.9 439.1,15.6 440.7,14.0 442.9,16.8 444.2,17.3 446.4,16.2 448.5,17.8 450.7,16.2 452.9,14.5 455.1,16.7 457.3,17.8 459.4,16.7 461.6,17.3 463.8,16.7 466.0,17.8 468.2,17.3 470.4,15.6 472.5,17.8 474.7,20.0 476.9,17.8 479.1,17.3 481.3,15.6 483.4,17.8 485.6,21.1 487.8,15.1 490.0,17.3 492.2,20.0 494.3,16.7 496.5,17.3 498.7,17.8 500.9,16.7 502.8,17.9 504.0,21.5 506.3,17.9 508.7,20.3 511.1,17.9 513.4,19.7 515.8,17.9 518.2,19.1 520.5,20.3 522.9,17.9 524.1,17.3" fill="none" stroke="#0000ff" stroke-width="2.6" stroke-linejoin="miter" stroke-miterlimit="3" stroke-linecap="square"/>
<polyline points="66.2,188.0 66.5,188.0 68.1,188.0 70.0,188.0 71.9,188.0 73.0,188.0 73.8,187.2 75.7,185.3 76.0,185.1 77.6,179.0 78.0,178.0 79.5,176.9 80.0,176.9 81.4,174.0 82.0,171.8 83.3,168.4 85.0,164.2 85.2,163.0 87.0,156.4 87.1,156.7 89.0,148.1 89.0,147.7 90.9,140.1 91.0,139.6 92.8,130.9 93.0,130.1 94.7,122.9 94.9,122.6 96.6,115.2 96.9,115.3 98.5,106.0 98.8,105.3 100.4,97.7 100.8,97.4 102.3,91.2 102.8,91.1 104.2,88.7 104.8,87.1 106.1,84.1 106.7,81.7 108.0,79.1 109.0,73.1 109.9,71.5 111.0,68.6 111.8,66.4 113.0,66.5 113.7,66.3 115.0,58.6 115.6,60.9 117.4,58.7 117.5,60.5 118.4,51.7 119.4,45.9 119.4,46.8 120.9,43.9 121.3,43.5 122.8,44.1 123.2,45.4 124.3,42.4 125.1,44.7 126.3,44.6 127.0,45.5 128.3,45.4 128.9,41.2 129.8,41.0 130.8,46.4 131.2,48.1 132.7,39.9 133.2,39.0 134.6,43.2 135.2,43.7 136.5,37.1 136.7,33.9 138.1,41.4 138.4,40.4 139.6,37.0 140.3,35.8 141.1,35.6 142.2,39.3 142.6,39.6 144.1,44.5 144.1,42.9 145.6,36.0 146.0,36.2 147.5,35.6 147.9,36.5 149.5,38.6 149.8,31.6 149.8,29.9 151.7,36.9 152.2,36.7 153.6,35.2 155.3,35.2 155.5,32.5 157.4,37.8 158.5,36.5 159.3,35.2 160.0,35.0 161.8,37.6 163.6,31.6 165.3,36.9 167.1,39.3 168.9,34.8 170.7,36.9 172.5,37.7 174.2,30.8 176.0,39.0 177.8,36.7 179.6,39.1 181.4,40.5 183.1,35.9 184.9,37.5 186.7,33.2 188.5,38.1 190.2,36.5 192.0,32.4 193.8,29.9 195.6,37.9 196.8,47.4 198.6,38.3 200.3,29.9 202.1,27.1 203.9,31.6 205.7,28.4 207.4,27.9 209.2,32.2 211.0,39.9 212.8,44.3 214.6,36.2 216.8,31.5 218.6,35.5 220.3,34.4 222.1,36.8 223.9,35.0 225.7,32.8 227.5,32.2 229.2,39.9 231.0,33.7 232.8,29.0 234.6,35.0 236.4,39.6 238.1,31.7 239.9,35.9 241.7,39.7 243.5,41.3 245.2,37.5 247.0,39.1 248.8,36.2 250.6,31.4 252.4,35.4 254.1,32.7 255.9,29.1 257.7,33.7 259.5,36.2 261.3,31.8 263.0,37.0 264.8,30.0 266.6,32.5 268.4,36.1 270.2,39.2 271.9,34.4 273.7,38.9 275.0,38.1 276.1,37.9 278.4,33.5 280.8,35.8 283.2,34.4 285.5,31.1 287.9,35.4 290.3,38.7 292.7,43.3 295.0,38.4 297.4,32.3 300.0,35.8 302.4,38.3 304.7,35.5 307.1,33.7 309.5,37.7 311.8,34.8 314.2,37.9 316.6,34.9 319.0,32.9 321.3,34.6 323.7,32.3 325.5,27.7 327.3,31.5 329.6,36.3 332.0,37.8 334.4,32.0 336.7,29.6 339.1,35.8 341.5,37.4 343.8,32.6 346.2,35.7 348.6,38.1 350.0,35.0 352.4,30.4 354.7,33.6 357.1,32.2 359.5,35.2 361.8,33.6 364.2,34.9 366.6,32.6 369.0,35.0 371.3,39.6 373.7,33.4 376.1,28.8 378.4,35.0 380.8,38.4 383.2,30.4 385.5,31.6 387.9,33.3 390.3,42.6 392.7,38.0 395.0,31.8 397.4,34.6 400.0,29.7 402.4,32.9 404.7,38.9 407.1,34.2 409.5,35.8 411.8,39.1 414.2,36.2 416.6,29.9 419.0,26.5 421.3,31.1 423.7,37.5 425.5,46.8 427.3,39.0 429.6,29.5 432.0,28.3 434.4,31.6 436.7,34.8 439.1,31.6 441.5,36.1 443.8,37.8 446.2,31.5 448.6,36.0 450.0,27.5 452.4,33.7 454.7,37.2 457.1,35.0 459.5,37.7 461.8,38.3 464.2,36.0 466.6,35.3 469.0,39.2 471.3,34.9 473.7,31.7 476.1,37.0 478.4,33.5 480.8,38.1 483.2,34.9 485.5,31.8 487.4,34.3 489.7,39.3 492.1,34.6 494.5,40.5 496.8,28.1 499.2,34.3 501.6,39.2 504.0,41.2 506.3,36.3 508.7,26.9 510.5,25.5 512.3,37.9 514.6,41.0 517.0,34.5 519.4,37.3 521.7,34.2 524.1,36.0" fill="none" stroke="#008000" stroke-width="2.6" stroke-linejoin="miter" stroke-miterlimit="3" stroke-linecap="square"/>
<polyline points="66.2,188.0 66.5,188.0 68.1,188.0 70.0,188.0 71.9,188.0 73.8,188.0 75.7,188.0 77.6,188.0 79.5,188.0 81.4,188.0 83.3,188.0 85.2,188.0 87.1,188.0 89.0,188.0 90.0,188.1 90.9,187.7 91.0,187.1 92.8,186.5 94.7,185.3 94.7,184.7 96.6,183.2 98.5,181.5 99.6,180.2 100.4,179.2 102.3,176.9 103.3,175.6 104.2,173.1 105.7,170.0 106.1,168.9 108.0,162.5 108.2,162.0 109.9,158.7 110.6,158.2 111.8,155.3 113.1,152.7 113.7,150.5 115.5,145.7 115.6,146.1 117.5,140.9 118.0,139.9 119.4,136.8 120.4,133.6 121.3,130.6 122.5,127.0 123.2,124.1 124.5,121.8 125.1,119.1 127.0,118.7 127.5,119.1 128.9,113.2 129.5,112.9 130.8,110.5 132.4,107.8 132.7,109.3 134.6,105.1 135.0,106.1 136.5,100.7 138.4,99.9 138.7,98.3 140.3,96.2 142.2,96.3 142.7,92.2 144.1,91.8 145.8,94.4 146.0,88.6 147.9,87.5 149.0,87.0 149.8,83.5 151.4,83.9 151.7,79.3 152.9,74.8 153.6,74.5 155.3,77.6 155.5,75.2 156.9,75.8 157.4,75.3 159.3,74.0 159.3,77.1 160.9,71.1 161.2,71.3 163.1,73.5 163.2,72.7 165.0,69.1 165.6,69.6 166.9,68.3 168.0,67.4 168.8,66.4 169.6,63.4 170.7,68.5 171.9,68.0 172.6,67.7 174.3,68.3 174.5,68.1 176.4,67.8 177.5,66.3 178.3,66.3 180.0,64.6 180.2,64.8 180.4,62.1 182.1,62.2 184.0,60.6 185.3,64.4 185.9,61.4 187.8,61.3 189.3,60.0 189.7,59.7 191.6,61.0 193.5,56.6 195.2,58.4 200.0,60.1 204.7,57.4 207.1,55.1 209.5,62.3 211.8,54.7 214.2,51.7 215.0,45.7 216.8,50.7 218.6,49.4 220.3,44.8 222.1,51.0 223.9,47.3 225.7,50.4 227.5,49.6 229.2,44.9 231.0,48.1 232.8,47.7 234.6,51.7 236.4,45.3 238.1,39.3 239.9,47.0 241.7,51.8 243.5,45.5 245.2,43.9 247.0,49.2 248.8,47.1 250.6,43.4 252.4,48.0 254.1,37.8 255.9,34.8 257.7,45.9 259.5,38.6 261.3,49.3 263.0,41.6 264.8,37.3 266.6,44.9 268.4,40.3 270.2,38.4 271.9,45.6 273.7,42.1 275.0,43.3 276.1,46.4 278.4,45.9 280.8,44.3 283.2,45.8 285.5,38.8 287.9,42.6 290.3,45.8 292.7,47.6 295.0,45.2 297.4,42.4 300.0,41.5 302.4,39.3 304.7,37.3 307.1,40.5 309.5,42.7 311.8,37.2 314.2,41.2 316.6,45.3 319.0,40.6 321.3,36.7 323.7,34.4 326.1,40.8 328.4,42.3 330.8,40.5 333.2,36.5 335.5,41.2 337.9,43.7 340.3,42.2 342.7,35.1 345.0,39.9 347.4,37.5 350.0,42.8 352.4,35.6 354.7,46.3 356.5,26.9 358.3,37.9 360.7,31.9 363.0,36.9 365.4,35.0 367.8,32.1 370.1,34.7 372.5,37.1 374.9,34.8 377.3,42.5 379.6,36.3 382.0,31.9 384.4,36.7 386.7,34.0 389.1,30.9 391.5,29.4 393.8,35.7 396.2,34.2 398.6,30.8 400.0,33.0 402.4,34.7 404.7,41.2 407.1,35.0 409.5,31.8 411.8,23.5 414.2,32.2 416.6,36.9 419.0,32.3 421.3,33.6 423.7,35.0 426.1,26.7 428.4,33.5 430.8,36.6 433.2,32.1 435.5,35.0 437.9,31.9 440.3,30.5 442.7,35.1 445.0,32.2 447.4,30.7 450.0,34.4 452.4,29.9 454.7,31.6 457.1,35.1 459.5,32.1 461.8,27.4 463.6,22.1 465.4,29.2 467.8,34.0 470.1,30.9 472.5,27.5 474.9,30.7 477.3,26.2 479.6,30.5 482.0,27.1 484.4,30.2 487.4,39.0 489.7,34.3 492.1,29.5 494.5,32.7 496.8,30.9 499.2,35.0 501.6,24.1 503.4,21.1 505.1,30.5 507.5,32.8 509.9,30.3 512.3,28.4 514.6,32.1 517.0,34.7 519.4,28.7 521.7,32.6 524.1,26.6" fill="none" stroke="#a52a2a" stroke-width="2.6" stroke-linejoin="miter" stroke-miterlimit="3" stroke-linecap="square"/>
<polyline points="66.2,188.0 66.5,188.0 68.1,188.0 70.0,188.0 71.9,188.0 73.8,188.0 75.7,188.0 77.6,188.0 78.0,188.0 79.5,187.8 80.0,187.8 81.4,186.7 83.3,187.0 84.9,186.0 85.2,185.5 87.1,184.1 89.0,184.3 89.8,182.8 90.9,180.4 92.8,179.6 93.5,177.7 94.7,176.6 96.6,175.0 97.2,173.8 98.5,173.7 100.4,173.4 100.8,172.3 102.3,171.1 104.2,169.1 104.5,169.8 106.1,165.6 107.0,164.4 108.0,162.6 109.4,160.9 109.9,159.9 111.8,156.8 111.9,157.6 113.7,152.3 114.3,150.9 115.6,148.0 116.8,145.8 117.5,144.4 119.2,141.1 119.4,140.8 121.3,137.0 121.7,135.8 123.2,132.7 125.1,128.9 125.5,128.1 127.0,125.6 128.5,122.0 128.9,121.1 130.8,120.9 131.4,119.7 132.7,117.8 134.6,115.7 135.0,113.9 136.5,112.7 138.0,107.4 138.4,112.8 140.3,106.4 142.0,105.0 142.2,105.8 144.1,100.9 145.0,99.0 146.0,99.7 147.4,95.8 147.9,95.0 149.8,95.9 149.8,94.9 151.7,93.6 152.2,92.4 153.6,93.5 154.5,89.7 155.5,91.8 156.9,90.2 157.4,87.4 158.5,91.1 159.3,87.0 160.9,88.0 161.2,84.8 163.1,85.3 163.2,86.9 165.0,84.6 165.6,82.6 166.9,79.4 168.0,76.8 168.8,77.5 170.3,78.8 170.7,76.2 172.6,72.9 172.7,75.1 174.5,72.4 175.1,74.6 176.4,71.4 177.5,69.4 178.3,71.2 180.0,69.2 180.2,68.6 182.1,69.3 183.4,70.0 184.0,67.0 185.9,67.9 187.8,65.7 189.3,66.9 189.7,68.4 191.6,66.1 193.5,64.7 195.2,65.6 200.0,65.0 204.7,63.8 207.1,64.9 209.5,66.1 211.8,66.8 214.2,65.6 216.6,62.8 219.0,60.9 221.3,60.2 223.7,60.8 226.1,59.1 228.4,57.9 230.8,53.7 233.2,55.3 235.5,54.0 237.9,55.6 240.3,55.7 242.7,52.9 245.0,55.1 247.4,50.2 250.0,48.8 252.4,53.7 254.7,55.7 257.1,55.6 259.5,55.3 261.8,53.3 264.2,53.0 266.6,51.7 269.0,49.7 271.3,50.5 273.7,53.1 276.1,51.2 278.4,52.6 280.8,53.5 283.2,53.0 285.5,56.9 287.9,55.8 290.3,57.7 292.7,54.3 295.0,55.3 297.4,52.8 300.0,48.0 302.4,47.5 304.7,46.2 306.5,43.5 308.3,46.9 310.7,49.7 313.0,50.3 315.4,50.9 317.8,52.1 320.1,48.5 322.5,50.6 324.9,54.2 327.3,51.3 329.6,52.7 332.0,50.0 334.4,53.0 336.7,48.7 339.1,46.0 341.5,48.8 343.8,49.6 346.2,46.7 348.6,50.9 350.0,50.9 352.4,49.5 354.7,50.9 357.1,50.1 359.5,47.3 361.8,49.5 364.2,51.7 366.6,49.6 369.0,46.0 371.3,49.0 373.7,50.6 376.1,47.8 378.4,46.3 380.8,42.6 383.2,47.7 385.5,50.0 387.9,50.0 390.3,48.3 392.7,42.6 395.0,47.7 397.4,51.2 400.0,46.8 402.4,48.9 404.7,50.3 407.1,48.2 409.5,46.8 411.9,49.0 414.2,46.8 416.6,45.4 419.0,48.1 421.4,49.5 423.7,54.4 426.1,49.3 428.5,44.9 430.8,47.7 433.2,44.9 435.6,50.6 438.0,46.0 440.3,48.9 442.7,44.6 445.1,51.7 447.4,43.1 449.8,50.1 452.2,48.4 454.6,48.5 456.9,49.7 460.0,55.1 462.1,49.0 464.1,50.7 466.2,48.2 468.3,50.9 470.4,47.5 472.4,50.0 475.2,48.3 478.0,51.0 480.7,49.5 483.5,48.7 486.3,46.2 488.4,41.4 490.4,46.3 493.2,48.0 496.0,47.2 498.7,49.6 501.5,48.7 504.3,46.3 506.3,44.6 508.4,47.3 511.2,44.9 513.9,46.6 516.7,44.1 519.5,45.9 522.2,42.7 523.9,44.3" fill="none" stroke="#ffa500" stroke-width="2.6" stroke-linejoin="miter" stroke-miterlimit="3" stroke-linecap="square"/>
</g>
<rect x="43.6" y="3.85" width="503.10" height="193.05" fill="none" stroke="#666" stroke-width="1.4"/>
<text transform="translate(66.20,208.9) scale(0.93,1)" text-anchor="middle" class="tk">0.0</text>
<text transform="translate(158.15,208.9) scale(0.93,1)" text-anchor="middle" class="tk">0.2</text>
<text transform="translate(250.10,208.9) scale(0.93,1)" text-anchor="middle" class="tk">0.4</text>
<text transform="translate(342.05,208.9) scale(0.93,1)" text-anchor="middle" class="tk">0.6</text>
<text transform="translate(434.00,208.9) scale(0.93,1)" text-anchor="middle" class="tk">0.8</text>
<text transform="translate(525.95,208.9) scale(0.93,1)" text-anchor="middle" class="tk">1.0</text>
<text transform="translate(37.6,191.4) scale(0.9,1)" text-anchor="end" class="tk">0.0</text>
<text transform="translate(37.6,156.3) scale(0.9,1)" text-anchor="end" class="tk">0.2</text>
<text transform="translate(37.6,121.2) scale(0.9,1)" text-anchor="end" class="tk">0.4</text>
<text transform="translate(37.6,86.1) scale(0.9,1)" text-anchor="end" class="tk">0.6</text>
<text transform="translate(37.6,51.0) scale(0.9,1)" text-anchor="end" class="tk">0.8</text>
<text transform="translate(37.6,15.9) scale(0.9,1)" text-anchor="end" class="tk">1.0</text>

<rect x="283.5" y="138.5" width="257.8" height="34.9" rx="1.5" ry="1.5" fill="#fff" fill-opacity="0.8" stroke="#e3e3e3" stroke-width="1.1"/>
<line x1="288" y1="146.8" x2="310.5" y2="146.8" stroke="#0000ff" stroke-width="1.8" stroke-opacity="0.8"/>
<line x1="288" y1="162.6" x2="310.5" y2="162.6" stroke="#008000" stroke-width="1.8" stroke-opacity="0.8"/>
<line x1="424" y1="146.8" x2="446.4" y2="146.8" stroke="#a52a2a" stroke-width="1.8" stroke-opacity="0.8"/>
<line x1="424" y1="162.6" x2="446.4" y2="162.6" stroke="#ffa500" stroke-width="1.8" stroke-opacity="0.8"/>
<text transform="translate(319.5,150.6) scale(0.97,1)" class="lg">LLM-QTRAN</text>
<text transform="translate(319.5,166.5) scale(0.97,1)" class="lg">kmeans-QTRAN</text>
<text transform="translate(455,150.6) scale(0.97,1)" class="lg">fine-tuned QMIX</text>
<text transform="translate(455,166.5) scale(0.97,1)" class="lg">QTRAN</text>

<text transform="translate(288.7,245.4) scale(0.935,1)" text-anchor="middle" class="ax" style="font-size:14.5px">Step(1e5)</text>
<text transform="translate(13.7,100.9) rotate(-90)" text-anchor="middle" class="ax">Success rate</text>
</svg>
</body></html>
